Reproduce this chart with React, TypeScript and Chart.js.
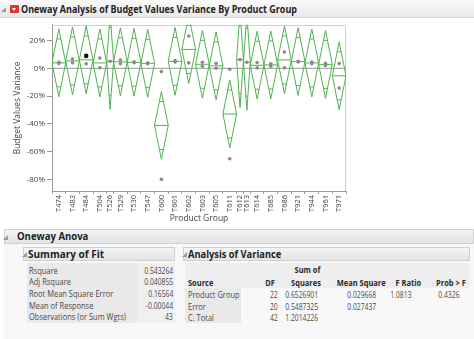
import React, { useEffect, useRef } from 'react';
import { Chart, registerables } from 'chart.js';

Chart.register(...registerables);

// ---------- data ----------
const categories = ['T474', 'T483', 'T484', 'T504', 'T526', 'T529', 'T530', 'T547', 'T600', 'T601', 'T602', 'T603', 'T605', 'T611', 'T612', 'T613', 'T614', 'T685', 'T686', 'T921', 'T944', 'T961', 'T971'];
const groupCounts = [2, 2, 2, 2, 1, 2, 2, 2, 2, 2, 2, 2, 2, 2, 1, 1, 2, 2, 2, 2, 2, 2, 2];
const obsFirst = [3.5, 6.7, 8.9, 7.4, 5.0, 6.0, 4.0, 3.2, -2.4, 4.5, 23.2, 4.3, 3.5, -0.7, 6.2, 4.3, 4.1, 3.3, 11.7, 4.5, 4.5, 3.6, 3.4];
const obsSecond: (number | null)[] = [4.3, 3.9, 3.2, 0.3, null, 3.2, 4.6, 3.9, -80.0, 5.5, 3.9, 1.4, 0.0, -65.2, null, null, 0.3, 1.5, 0.3, 5.1, 3.2, 2.0, -14.3];
const highlightedGroup = 'T484';
const highlightedValue = 8.9;
const yTickValues = [20, 0, -20, -40, -60, -80];
const rootMeanSquareErrorPct = 16.564;
const tCritical = 2.086;
const grandMeanPct = -0.044;

const fitLabels = ['Rsquare', 'Adj Rsquare', 'Root Mean Square Error', 'Mean of Response', 'Observations (or Sum Wgts)'];
const fitValues = ['0.543264', '0.040855', '0.16564', '-0.00044', '43'];
const anovaSources = ['Product Group', 'Error', 'C. Total'];
const anovaDF = ['22', '20', '42'];
const anovaSS = ['0.6526901', '0.5487325', '1.2014226'];
const anovaMS = ['0.029668', '0.027437', ''];
const anovaF = ['1.0813', '', ''];
const anovaP = ['0.4326', '', ''];

const FONT = '"Open Sans", "Noto Sans", sans-serif';

function OnewayChart() {
  const ref = useRef<HTMLCanvasElement>(null);
  useEffect(() => {
    if (!ref.current) return;
    const starts: number[] = [];
    let acc = 0;
    groupCounts.forEach((n) => { starts.push(acc); acc += n; });
    const total = acc;
    const centers = starts.map((s, i) => s + groupCounts[i] / 2);
    const boundaries = [...starts, total];
    const green = 'rgb(80,178,80)';

    const grayPts: { x: number; y: number }[] = [];
    const blackPts: { x: number; y: number }[] = [];
    const datasets: any[] = [];
    const diamondSets: any[] = [];

    categories.forEach((c, i) => {
      const vals = [obsFirst[i], obsSecond[i]].filter((v) => v !== null) as number[];
      vals.forEach((v) => {
        if (c === highlightedGroup && v === highlightedValue) blackPts.push({ x: centers[i], y: v });
        else grayPts.push({ x: centers[i], y: v });
      });
      const n = groupCounts[i];
      const mean = vals.reduce((a, b) => a + b, 0) / vals.length;
      const h = (tCritical * rootMeanSquareErrorPct) / Math.sqrt(n);
      const l = starts[i];
      const r = starts[i] + n;
      const m = centers[i];
      const o = h / Math.SQRT2;
      const dx = (n / 2) * (1 - 1 / Math.SQRT2);
      const lineStyle = { type: 'scatter', showLine: true, borderColor: green, borderWidth: 1, pointRadius: 0, order: 1 };
      diamondSets.push({ ...lineStyle, data: [{ x: l, y: mean }, { x: m, y: mean + h }, { x: r, y: mean }, { x: m, y: mean - h }, { x: l, y: mean }] });
      diamondSets.push({ ...lineStyle, data: [{ x: l, y: mean }, { x: r, y: mean }] });
      diamondSets.push({ ...lineStyle, data: [{ x: m - dx, y: mean + o }, { x: m + dx, y: mean + o }] });
      diamondSets.push({ ...lineStyle, data: [{ x: m - dx, y: mean - o }, { x: m + dx, y: mean - o }] });
    });

    datasets.push({ type: 'scatter', data: blackPts, backgroundColor: '#111', borderWidth: 0, pointRadius: 2.3, order: 0 });
    datasets.push({ type: 'scatter', data: grayPts, backgroundColor: '#8a8a8a', borderWidth: 0, pointRadius: 1.8, order: 0 });
    datasets.push(...diamondSets);
    datasets.push({ type: 'scatter', showLine: true, data: [{ x: 0, y: grandMeanPct }, { x: total, y: grandMeanPct }], borderColor: '#9a9a9a', borderWidth: 1, pointRadius: 0, order: 2 });

    const isCenter = (v: number) => centers.some((c) => Math.abs(c - v) < 1e-9);

    const framePlugin = {
      id: 'frame',
      beforeDatasetsDraw(chart: any) {
        const { ctx, chartArea } = chart;
        const { left, top, right, bottom } = chartArea;
        ctx.save();
        ctx.strokeStyle = '#cfcfcf';
        ctx.lineWidth = 1;
        ctx.beginPath();
        ctx.moveTo(left, Math.round(top) + 0.5);
        ctx.lineTo(Math.round(right) - 0.5, Math.round(top) + 0.5);
        ctx.lineTo(Math.round(right) - 0.5, bottom);
        ctx.stroke();
        ctx.restore();
      },
    };

    const chart = new Chart(ref.current, {
      type: 'scatter',
      data: { datasets },
      plugins: [framePlugin],
      options: {
        animation: false,
        responsive: false,
        devicePixelRatio: 1,
        layout: { padding: { top: 6, right: 7, left: 0, bottom: 0 } },
        plugins: { legend: { display: false }, tooltip: { enabled: false } },
        scales: {
          x: {
            type: 'linear',
            min: 0,
            max: total,
            afterBuildTicks: (axis: any) => {
              const vals = [...boundaries, ...centers].sort((a, b) => a - b);
              axis.ticks = vals.map((v) => ({ value: v }));
            },
            afterFit: (s: any) => { s.height = 37; },
            ticks: {
              autoSkip: false,
              minRotation: 90,
              maxRotation: 90,
              padding: 1,
              color: '#444',
              font: { size: 7.5, family: FONT },
              callback: (v: any) => {
                const idx = centers.findIndex((c) => Math.abs(c - v) < 1e-9);
                return idx >= 0 ? categories[idx] : '';
              },
            },
            grid: {
              drawOnChartArea: false,
              tickLength: 3,
              color: (ctx: any) => (ctx.tick && !isCenter(ctx.tick.value) ? '#a0a0a0' : 'rgba(0,0,0,0)'),
            },
            border: { color: '#999' },
            title: { display: true, text: 'Product Group', color: '#444', font: { size: 8.5, family: FONT }, padding: { top: 0, bottom: 4 } },
          },
          y: {
            type: 'linear',
            min: -88.4,
            max: 31.3,
            afterBuildTicks: (axis: any) => { axis.ticks = yTickValues.map((v) => ({ value: v })); },
            afterFit: (s: any) => { s.width = 52; },
            ticks: { padding: 2, color: '#444', font: { size: 8, family: FONT }, callback: (v: any) => `${v}%` },
            grid: { drawOnChartArea: false, tickLength: 5, color: '#999' },
            border: { color: '#999' },
            title: { display: true, text: 'Budget Values Variance', color: '#444', font: { size: 8.5, family: FONT }, padding: { top: 12, bottom: 0 } },
          },
        },
      },
    } as any);
    return () => chart.destroy();
  }, []);
  return <canvas ref={ref} width={356} height={210} style={{ position: 'absolute', left: 0, top: 18, width: 356, height: 210 }} />;
}

function Tri({ x, y }: { x: number; y: number }) {
  return (
    <div style={{ position: 'absolute', left: x, top: y, width: 0, height: 0, borderLeft: '5px solid transparent', borderBottom: '5px solid #9a9a9a' }} />
  );
}

function Box({ x, y, w, h }: { x: number; y: number; w: number; h: number }) {
  return (
    <div style={{ position: 'absolute', left: x, top: y, width: w, height: h, background: 'linear-gradient(#f4f4f4, #e4e4e4)', border: '1px solid #d0d0d0', boxSizing: 'border-box' }} />
  );
}

type TxtProps = { text: string; x: number; y: number; size?: number; bold?: boolean; right?: boolean; sx?: number; lh?: number; color?: string };
function Txt({ text, x, y, size = 8.5, bold = false, right = false, sx = 0.88, lh = 11, color }: TxtProps) {
  const style: any = {
    position: 'absolute',
    top: y,
    fontSize: size,
    lineHeight: `${lh}px`,
    fontWeight: bold ? 700 : 400,
    color: color || (bold ? '#2a2a2a' : '#4a4a4a'),
    whiteSpace: 'nowrap',
    transform: `scaleX(${sx})`,
    transformOrigin: right ? 'right center' : 'left center',
  };
  if (right) style.right = 474 - x;
  else style.left = x;
  return <div style={style}>{text}</div>;
}

export default function App() {
  const rowTops = [289, 300.5, 312];
  const numSx = 0.8;
  return (
    <div style={{ position: 'fixed', left: 0, top: 0, width: 474, height: 339, background: '#ffffff', fontFamily: FONT, overflow: 'hidden' }}>
      {/* title bar */}
      <div style={{ position: 'absolute', left: 0, top: 0, width: 474, height: 17, background: 'linear-gradient(#fafafa, #e9e9e9)', borderBottom: '1px solid #dadada' }} />
      <Tri x={1} y={7} />
      <div style={{ position: 'absolute', left: 10, top: 5, width: 9, height: 8, background: '#d9372f', borderRadius: 1 }}>
        <div style={{ position: 'absolute', left: 2, top: 3, width: 0, height: 0, borderLeft: '2.5px solid transparent', borderRight: '2.5px solid transparent', borderTop: '3px solid #fff' }} />
      </div>
      <Txt text="Oneway Analysis of Budget Values Variance By Product Group" x={21} y={1} size={11} bold sx={0.815} lh={16} color="#222" />

      <OnewayChart />

      {/* Oneway Anova */}
      <div style={{ position: 'absolute', left: 4, top: 229, width: 470, height: 110, background: '#f8f8f8' }} />
      <Box x={4} y={229} w={470} h={15} />
      <Tri x={3} y={235} />
      <Txt text="Oneway Anova" x={17} y={229} size={10.5} bold sx={0.91} lh={15} color="#222" />

      {/* Summary of Fit */}
      <Box x={23} y={247} w={152} h={14} />
      <Tri x={22} y={252} />
      <Txt text="Summary of Fit" x={28} y={247} size={10} bold sx={1} lh={14} color="#222" />
      <div style={{ position: 'absolute', left: 27, top: 263, width: 110, height: 60, background: '#e9e9e9' }} />
      <div style={{ position: 'absolute', left: 137, top: 263, width: 38, height: 60, background: '#f0f0f0' }} />
      {fitLabels.map((t, i) => (
        <Txt key={t} text={t} x={29} y={264.5 + i * 11.7} />
      ))}
      {fitValues.map((t, i) => (
        <Txt key={'v' + i} text={t} x={173} y={264.5 + i * 11.7} right sx={numSx} />
      ))}

      {/* Analysis of Variance */}
      <Box x={183} y={247} w={287} h={14} />
      <Tri x={182} y={252} />
      <Txt text="Analysis of Variance" x={188} y={247} size={10} bold sx={0.93} lh={14} color="#222" />
      <div style={{ position: 'absolute', left: 185, top: 263, width: 285, height: 25, background: '#eeeeee' }} />
      <div style={{ position: 'absolute', left: 185, top: 288, width: 56, height: 35, background: '#e9e9e9' }} />
      <Txt text="Source" x={188} y={276.5} bold />
      <Txt text="DF" x={275} y={276.5} bold right />
      <Txt text="Sum of" x={320} y={263.5} bold right />
      <Txt text="Squares" x={321} y={276.5} bold right />
      <Txt text="Mean Square" x={386} y={276.5} bold right />
      <Txt text="F Ratio" x={421} y={276.5} bold right />
      <Txt text="Prob > F" x={466} y={276.5} bold right />
      {anovaSources.map((s, i) => (
        <Txt key={s} text={s} x={188} y={rowTops[i]} />
      ))}
      {anovaDF.map((t, i) => <Txt key={'df' + i} text={t} x={278} y={rowTops[i]} right sx={numSx} />)}
      {anovaSS.map((t, i) => <Txt key={'ss' + i} text={t} x={318} y={rowTops[i]} right sx={numSx} />)}
      {anovaMS.map((t, i) => <Txt key={'ms' + i} text={t} x={376} y={rowTops[i]} right sx={numSx} />)}
      {anovaF.map((t, i) => <Txt key={'f' + i} text={t} x={412} y={rowTops[i]} right sx={numSx} />)}
      {anovaP.map((t, i) => <Txt key={'p' + i} text={t} x={460} y={rowTops[i]} right sx={numSx} />)}
    </div>
  );
}
